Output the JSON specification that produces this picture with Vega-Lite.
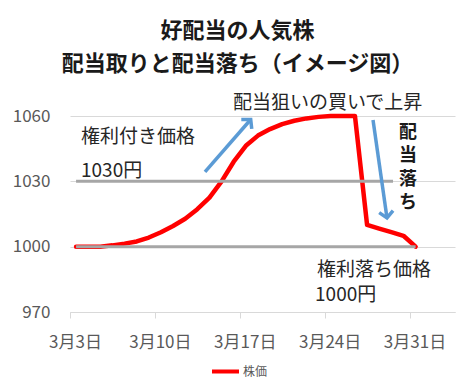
{
  "$schema": "https://vega.github.io/schema/vega-lite/v6.json",
  "width": 385,
  "height": 196,
  "autosize": {"type": "none"},
  "padding": {"left": 70, "top": 116, "right": 19, "bottom": 74},
  "background": "white",
  "config": {
    "view": {"stroke": null},
    "font": "Noto Sans CJK JP",
    "axis": {"labelFont": "Noto Sans CJK JP", "labelColor": "#595959", "labelFontSize": 17, "title": null}
  },
  "title": {
    "text": ["好配当の人気株", "配当取りと配当落ち（イメージ図）"],
    "fontSize": 22,
    "fontWeight": "bold",
    "color": "#1a1a1a",
    "lineHeight": 33,
    "anchor": "middle",
    "frame": "group",
    "dx": -25,
    "offset": 18
  },
  "datasets": {
    "price": [
      {"date": "2014-03-03T12:00:00", "price": 1000, "series": "株価"},
      {"date": "2014-03-04T12:00:00", "price": 1000, "series": "株価"},
      {"date": "2014-03-05T12:00:00", "price": 1000, "series": "株価"},
      {"date": "2014-03-06T12:00:00", "price": 1000.6, "series": "株価"},
      {"date": "2014-03-07T12:00:00", "price": 1001.4, "series": "株価"},
      {"date": "2014-03-08T12:00:00", "price": 1002.4, "series": "株価"},
      {"date": "2014-03-09T12:00:00", "price": 1004.2, "series": "株価"},
      {"date": "2014-03-10T12:00:00", "price": 1006.6, "series": "株価"},
      {"date": "2014-03-11T12:00:00", "price": 1009.5, "series": "株価"},
      {"date": "2014-03-12T12:00:00", "price": 1012.8, "series": "株価"},
      {"date": "2014-03-13T12:00:00", "price": 1017.2, "series": "株価"},
      {"date": "2014-03-14T12:00:00", "price": 1022.5, "series": "株価"},
      {"date": "2014-03-15T12:00:00", "price": 1030, "series": "株価"},
      {"date": "2014-03-16T12:00:00", "price": 1039, "series": "株価"},
      {"date": "2014-03-17T12:00:00", "price": 1046.3, "series": "株価"},
      {"date": "2014-03-18T12:00:00", "price": 1051, "series": "株価"},
      {"date": "2014-03-19T12:00:00", "price": 1054, "series": "株価"},
      {"date": "2014-03-20T12:00:00", "price": 1056.3, "series": "株価"},
      {"date": "2014-03-21T12:00:00", "price": 1057.8, "series": "株価"},
      {"date": "2014-03-22T12:00:00", "price": 1058.9, "series": "株価"},
      {"date": "2014-03-23T12:00:00", "price": 1059.6, "series": "株価"},
      {"date": "2014-03-24T12:00:00", "price": 1060, "series": "株価"},
      {"date": "2014-03-25T12:00:00", "price": 1060, "series": "株価"},
      {"date": "2014-03-26T12:00:00", "price": 1060, "series": "株価"},
      {"date": "2014-03-27T12:00:00", "price": 1010, "series": "株価"},
      {"date": "2014-03-28T12:00:00", "price": 1008.3, "series": "株価"},
      {"date": "2014-03-29T12:00:00", "price": 1006.7, "series": "株価"},
      {"date": "2014-03-30T12:00:00", "price": 1005, "series": "株価"},
      {"date": "2014-03-31T12:00:00", "price": 1000, "series": "株価"}
    ],
    "levels": [
      {"start": "2014-03-03T12:00:00", "end": "2014-03-29T15:20:00", "level": 1030},
      {"start": "2014-03-03T12:00:00", "end": "2014-03-31T12:00:00", "level": 1000}
    ],
    "arrows": [
      {"x": "2014-03-14T03:10:00", "y": 1034.3, "tipx": "2014-03-17T21:40:00", "tipy": 1058.4, "angle": 41.7},
      {"x": "2014-03-27T23:45:00", "y": 1058.2, "tipx": "2014-03-29T03:25:00", "tipy": 1013.2, "angle": 171.9}
    ],
    "notes": [
      {"x": "2014-03-03T21:50:00", "y": 1050.4, "text": "権利付き価格"},
      {"x": "2014-03-03T21:50:00", "y": 1034.8, "text": "1030円"},
      {"x": "2014-03-16T10:30:00", "y": 1066, "text": "配当狙いの買いで上昇"},
      {"x": "2014-03-23T09:00:00", "y": 989.3, "text": "権利落ち価格"},
      {"x": "2014-03-23T05:00:00", "y": 977.8, "text": "1000円"}
    ],
    "vertical": [
      {"x": "2014-03-30T20:50:00", "y": 1052.2, "text": "配\n当\n落\nち"}
    ]
  },
  "layer": [
    {
      "data": {"name": "price"},
      "mark": {"type": "line", "strokeWidth": 4.5, "strokeCap": "round", "strokeJoin": "round"},
      "encoding": {
        "x": {
          "field": "date",
          "type": "temporal",
          "scale": {"domain": [{"year": 2014, "month": 3, "date": 3}, {"year": 2014, "month": 4, "date": 3, "hours": 18}]},
          "axis": {
            "values": [
              {"year": 2014, "month": 3, "date": 3},
              {"year": 2014, "month": 3, "date": 10},
              {"year": 2014, "month": 3, "date": 17},
              {"year": 2014, "month": 3, "date": 24},
              {"year": 2014, "month": 3, "date": 31}
            ],
            "format": "%-m月%-d日",
            "formatType": "time",
            "grid": false,
            "domainColor": "#d9d9d9",
            "tickColor": "#d9d9d9",
            "tickSize": 6,
            "labelPadding": 16,
            "labelOffset": 5,
            "labelFlush": false,
            "labelOverlap": false
          }
        },
        "y": {
          "field": "price",
          "type": "quantitative",
          "scale": {"domain": [970, 1060], "nice": false, "zero": false},
          "axis": {
            "values": [970, 1000, 1030, 1060],
            "format": "d",
            "grid": true,
            "gridColor": "#d9d9d9",
            "domain": false,
            "ticks": false,
            "labelPadding": 20
          }
        },
        "color": {
          "field": "series",
          "type": "nominal",
          "scale": {"domain": ["株価"], "range": ["#ff0000"]},
          "legend": {
            "title": null,
            "orient": "none",
            "legendX": 140,
            "legendY": 240,
            "symbolType": "stroke",
            "symbolSize": 729,
            "symbolStrokeWidth": 4,
            "labelFontSize": 12,
            "labelColor": "#595959",
            "labelOffset": 2,
            "labelFont": "Noto Sans CJK JP"
          }
        }
      }
    },
    {
      "data": {"name": "levels"},
      "mark": {"type": "rule", "color": "#a6a6a6", "strokeWidth": 3},
      "encoding": {
        "x": {"field": "start", "type": "temporal"},
        "x2": {"field": "end"},
        "y": {"field": "level", "type": "quantitative"}
      }
    },
    {
      "data": {"name": "arrows"},
      "mark": {"type": "rule", "color": "#5b9bd5", "strokeWidth": 3.5},
      "encoding": {
        "x": {"field": "x", "type": "temporal"},
        "y": {"field": "y", "type": "quantitative"},
        "x2": {"field": "tipx"},
        "y2": {"field": "tipy"}
      }
    },
    {
      "data": {"name": "arrows"},
      "mark": {"type": "point", "shape": "M-1,0.9L0,0L1,0.9", "filled": false, "color": "#5b9bd5", "strokeWidth": 3.5, "size": 196, "opacity": 1, "strokeJoin": "miter"},
      "encoding": {
        "x": {"field": "tipx", "type": "temporal"},
        "y": {"field": "tipy", "type": "quantitative"},
        "angle": {"field": "angle", "type": "quantitative", "scale": null}
      }
    },
    {
      "data": {"name": "notes"},
      "mark": {"type": "text", "align": "left", "baseline": "middle", "fontSize": 19, "color": "#262626"},
      "encoding": {
        "x": {"field": "x", "type": "temporal"},
        "y": {"field": "y", "type": "quantitative"},
        "text": {"field": "text"}
      }
    },
    {
      "data": {"name": "vertical"},
      "mark": {"type": "text", "align": "center", "baseline": "middle", "fontSize": 18, "fontWeight": "bold", "lineBreak": "\n", "lineHeight": 23.5, "color": "#1a1a1a"},
      "encoding": {
        "x": {"field": "x", "type": "temporal"},
        "y": {"field": "y", "type": "quantitative"},
        "text": {"field": "text"}
      }
    }
  ]
}
